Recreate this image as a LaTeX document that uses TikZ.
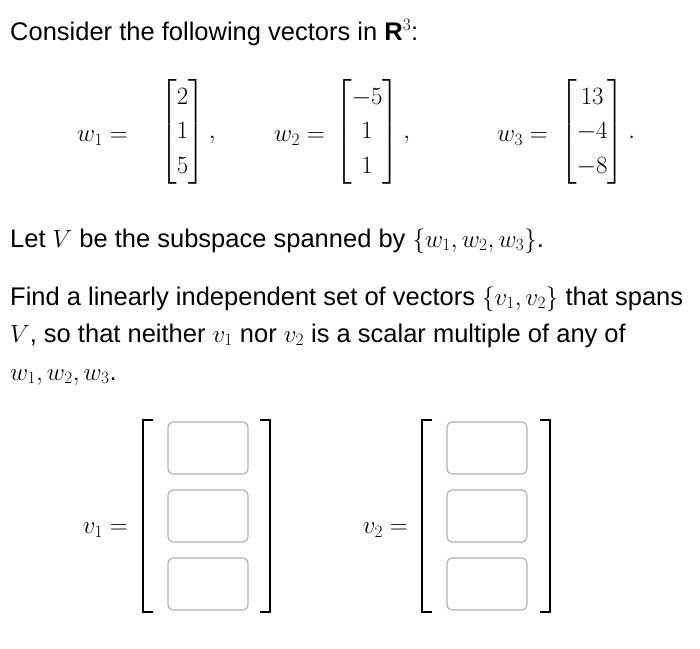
\documentclass[tikz,border=0pt]{standalone}
\usepackage{amsmath}
\usepackage{fontspec}
\setmainfont{Liberation Sans}
\begin{document}
\begin{tikzpicture}[x=1pt,y=-1pt,
  txt/.style={anchor=base west,inner sep=0pt,font=\fontsize{25.5}{30}\selectfont},
  mth/.style={inner sep=0pt,font=\fontsize{25}{30}\selectfont},
  ansbox/.style={draw=black!30,line width=1.2pt,rounded corners=5pt,minimum width=80pt,minimum height=52pt},
  brk/.style={line width=1.3pt}]
\useasboundingbox (0,0) rectangle (700,648);
\node[txt] (t1) at (10,40) {Consider the following vectors in $\mathbf{R}^3$:};
\renewcommand{\arraystretch}{1.15}
\node[mth,anchor=east] (l1) at (128,138) {$w_1 =$};
\node[mth,anchor=west] (m1) at (160,132) {$\begin{bmatrix}2\\1\\5\end{bmatrix},$};
\node[mth,anchor=east] (l2) at (325,138) {$w_2 =$};
\node[mth,anchor=west] (m2) at (335,132) {$\begin{bmatrix}-5\\1\\1\end{bmatrix},$};
\node[mth,anchor=east] (l3) at (548,138) {$w_3 =$};
\node[mth,anchor=west] (m3) at (560,132) {$\begin{bmatrix}13\\-4\\-8\end{bmatrix}.$};
\node[txt] (t2) at (10,247) {Let $V$ be the subspace spanned by $\{w_1,w_2,w_3\}$.};
\node[txt] (t3) at (10,305) {Find a linearly independent set of vectors $\{v_1,v_2\}$ that spans};
\node[txt] (t4) at (10,342) {$V$, so that neither $v_1$ nor $v_2$ is a scalar multiple of any of};
\node[txt] (t5) at (10,380) {$w_1, w_2, w_3$.};
% v1
\node[mth,anchor=east] (lv1) at (128,530) {$v_1 =$};
\draw[brk] (153,420) -- (143,420) -- (143,612) -- (153,612);
\draw[brk] (260,420) -- (270,420) -- (270,612) -- (260,612);
\node[ansbox] (a1) at (208,448) {};
\node[ansbox] (a2) at (208,516) {};
\node[ansbox] (a3) at (208,584) {};
% v2
\node[mth,anchor=east] (lv2) at (408,530) {$v_2 =$};
\draw[brk] (432,420) -- (422,420) -- (422,612) -- (432,612);
\draw[brk] (540,420) -- (550,420) -- (550,612) -- (540,612);
\node[ansbox] (b1) at (487,448) {};
\node[ansbox] (b2) at (487,516) {};
\node[ansbox] (b3) at (487,584) {};
\end{tikzpicture}
\end{document}
